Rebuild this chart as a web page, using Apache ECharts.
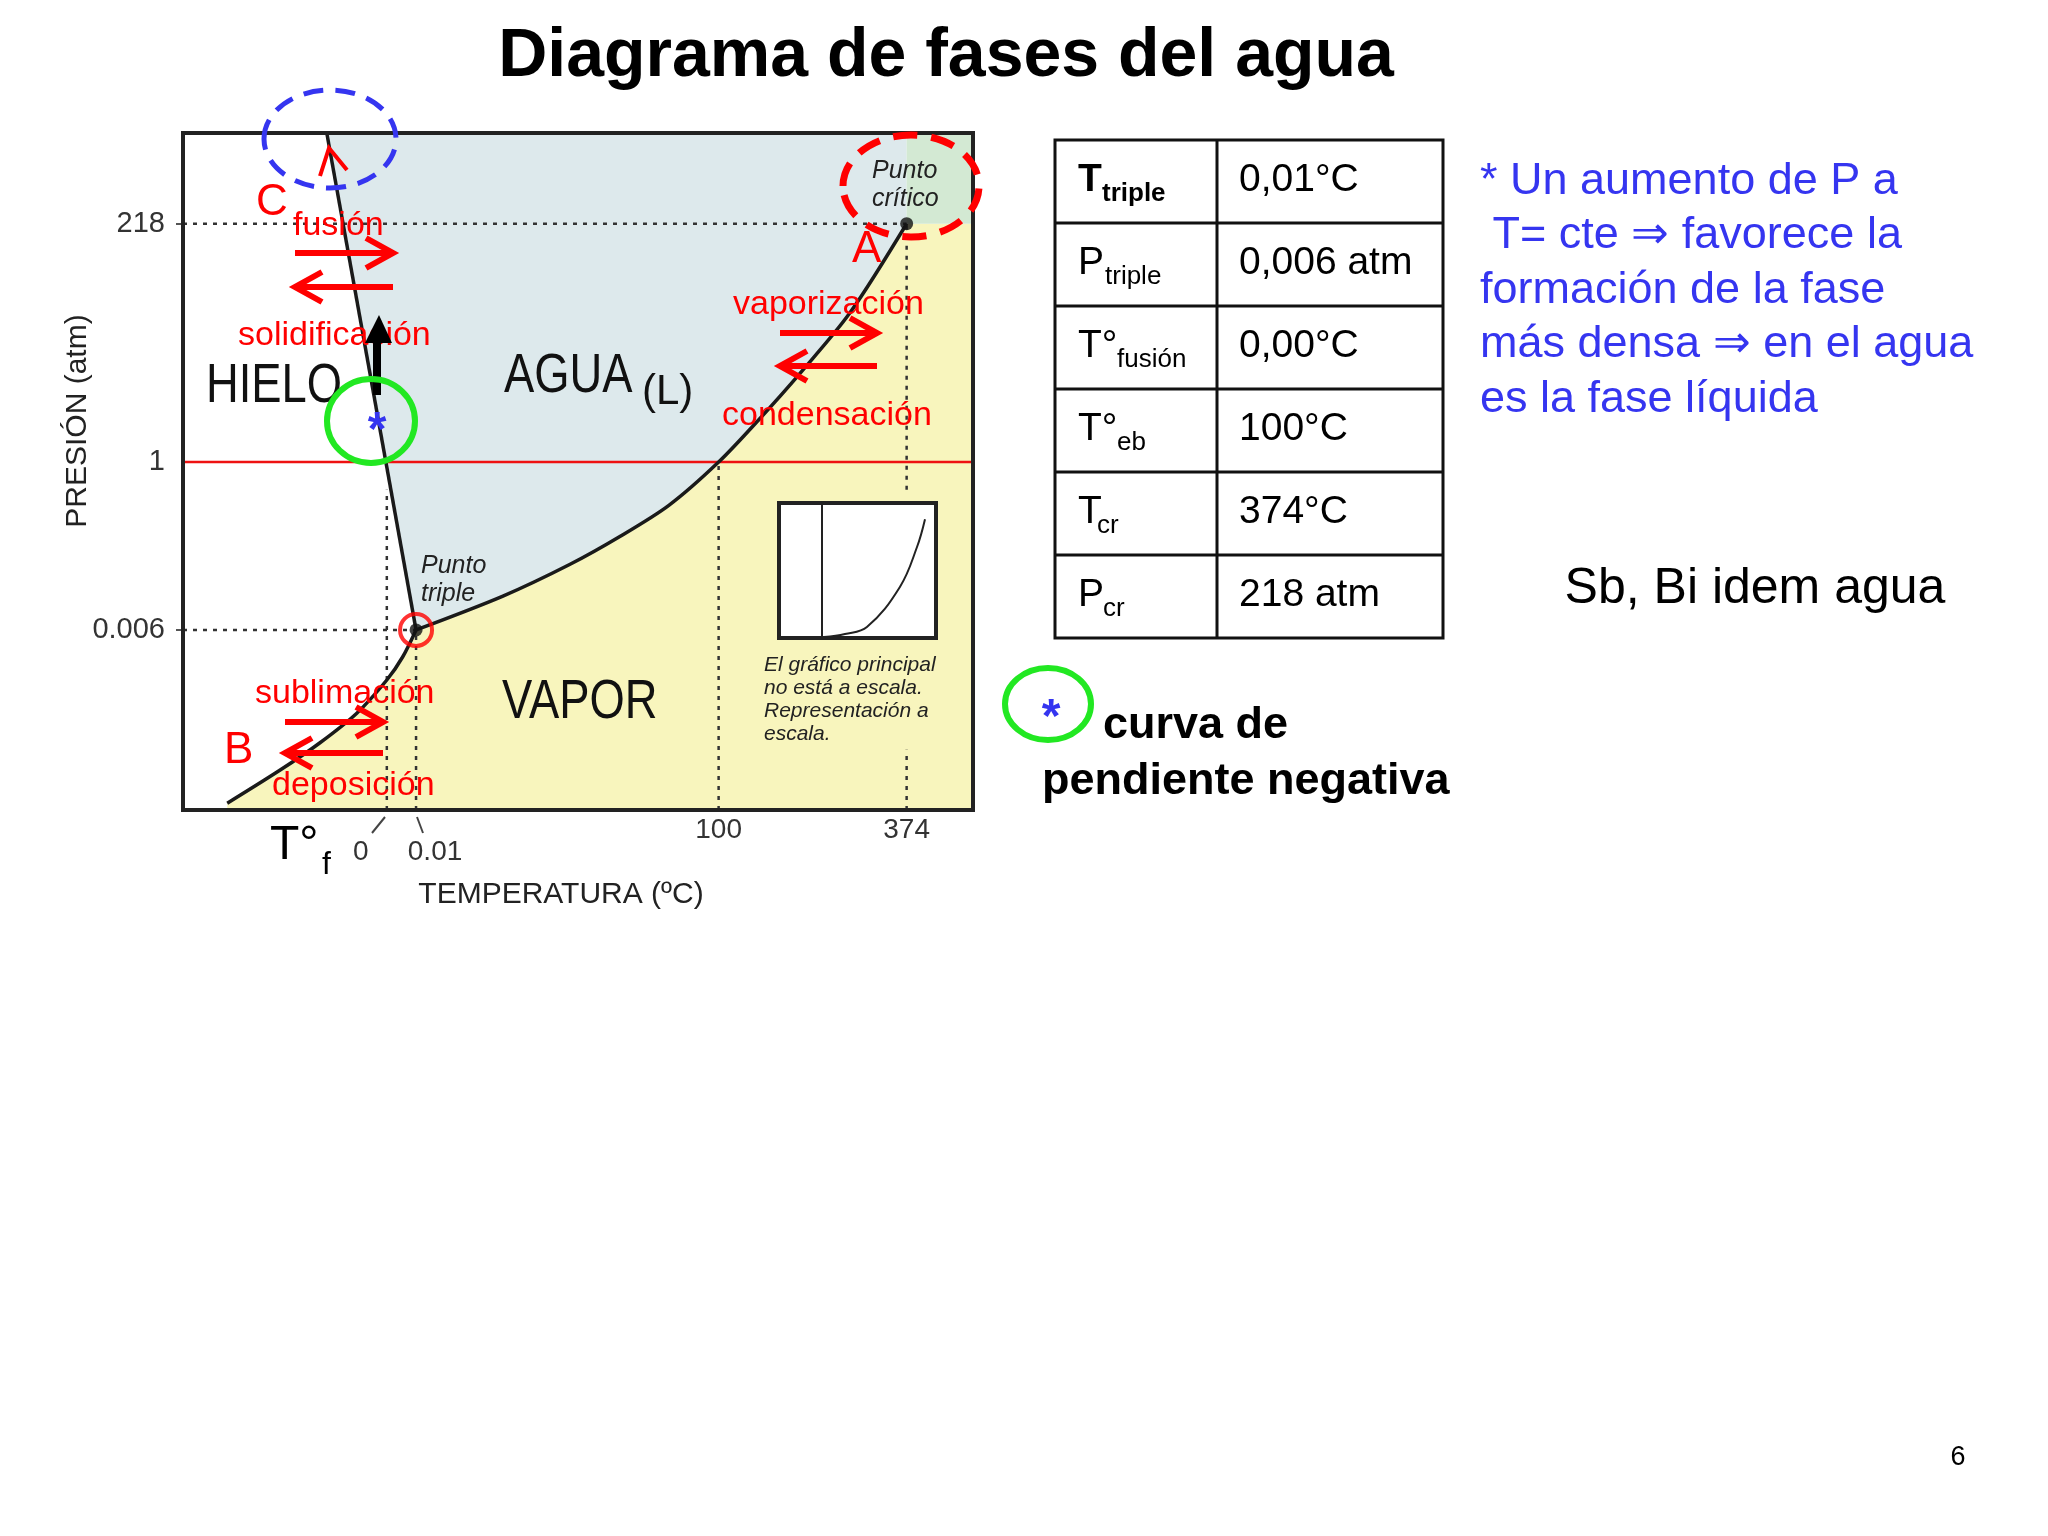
<!DOCTYPE html>
<html>
<head>
<meta charset="utf-8">
<title>Diagrama de fases del agua</title>
<script src="https://cdn.jsdelivr.net/npm/echarts@6/dist/echarts.min.js"></script>
<style>
  html, body { margin: 0; background: #fff; }
  #chart { width: 2048px; height: 1536px; }
</style>
</head>
<body>
<div id="chart"></div>
<script>
// diagrama esquemático (no está a escala): ejes en unidades 0-100
const tempLabels = ['0', '0.01', '100', '374'];
const tempPos = [25.8, 29.5, 67.8, 91.6];
const presLabels = ['0.006', '1', '218'];
const presPos = [26.6, 51.4, 86.6];

// curvas de equilibrio
const fusT = [29.5, 18.2];
const fusP = [26.6, 100];
const subT = [5.6, 12.3, 17.3, 22.0, 25.8, 27.8, 29.5];
const subP = [1.0, 5.9, 9.9, 14.3, 19.2, 22.6, 26.6];
const vapT = [29.5, 40.5, 49.0, 55.3, 61.5, 67.8, 73.0, 78.1, 84.4, 91.6];
const vapP = [26.6, 31.6, 36.3, 40.4, 45.0, 51.4, 57.8, 64.5, 73.4, 86.6];

// recuadro "a escala"
const insetLineT = [27.4, 27.4];
const insetLineP = [0, 100];
const insetCurveT = [28.7, 42, 56, 77, 87.9, 93];
const insetCurveP = [0.7, 3, 8.1, 37.8, 67.4, 88];

// tabla
const tableMain = ['T', 'P', 'T°', 'T°', 'T', 'P'];
const tableSub = ['triple', 'triple', 'fusión', 'eb', 'cr', 'cr'];
const tableValues = ['0,01°C', '0,006 atm', '0,00°C', '100°C', '374°C', '218 atm'];

const noteLines = ['* Un aumento de P a', ' T= cte ⇒ favorece la', 'formación de la fase', 'más densa ⇒ en el agua', 'es la fase líquida'];

const zip = (xs, ys) => xs.map((x, i) => [x, ys[i]]);
const triple = [tempPos[1], presPos[0]];
const critical = [tempPos[3], presPos[2]];

// regiones: líquido, vapor, supercrítico
const regionNames = ['AGUA', 'VAPOR', 'supercrítico'];
const regionColors = ['#dde9ec', '#f8f5bd', '#d3e9d3'];
const regionPolys = [
  [[fusT[1], fusP[1]]].concat(zip(vapT, vapP), [[critical[0], 100]]),
  [[subT[0], 0]].concat(zip(subT, subP), zip(vapT, vapP).slice(1), [[100, critical[1]], [100, 0]]),
  [critical, [100, critical[1]], [100, 100], [critical[0], 100]]
];

const guideLines = [
  [[0, presPos[2]], critical],
  [[0, presPos[0]], triple],
  [[tempPos[0], 0], [tempPos[0], 47.3]],
  [[tempPos[1], 0], triple],
  [[tempPos[2], 0], [tempPos[2], presPos[1]]],
  [[tempPos[3], 0], [tempPos[3], 8.9]],
  [[tempPos[3], 47.3], critical]
];

const SANS = '"Liberation Sans", Arial, sans-serif';
const RED = '#ff0000';
const BLUE = '#3535f0';

function txt(x, y, text, size, color, extra) {
  return {
    type: 'text', x: x, y: y, z: 100,
    style: Object.assign({
      text: text, fontSize: size, fill: color, fontFamily: SANS,
      align: 'left', verticalAlign: 'middle'
    }, extra || {})
  };
}
// rótulos estrechos del gráfico original (HIELO, AGUA, VAPOR)
function narrow(x, y, text) {
  const el = txt(x, y, text, 56, '#111');
  el.scaleX = 0.81;
  return el;
}
function arrow(x1, x2, y, color) {
  const d = x2 > x1 ? 1 : -1;
  return [
    { type: 'line', z: 100, shape: { x1: x1, y1: y, x2: x2 - d * 3, y2: y }, style: { stroke: color, lineWidth: 6 } },
    { type: 'polyline', z: 100, shape: { points: [[x2 - d * 27, y - 15], [x2, y], [x2 - d * 27, y + 15]] },
      style: { stroke: color, lineWidth: 6, fill: null, lineJoin: 'miter' } }
  ];
}
function ellipse(cx, cy, rx, ry, color, width, dash) {
  return { type: 'ellipse', z: 100, shape: { cx: cx, cy: cy, rx: rx, ry: ry },
    style: { fill: null, stroke: color, lineWidth: width, lineDash: dash || null } };
}

const graphics = [];
// título
graphics.push(txt(946, 57, 'Diagrama de fases del agua', 68, '#000', { align: 'center', fontWeight: 'bold' }));
// marco del diagrama
graphics.push({ type: 'rect', z: 50, shape: { x: 183, y: 133, width: 790, height: 677 },
  style: { fill: null, stroke: '#222', lineWidth: 4 } });
// títulos de ejes
graphics.push({ type: 'text', x: 78, y: 421, rotation: Math.PI / 2, z: 100,
  style: { text: 'PRESIÓN (atm)', fontSize: 30, fill: '#222', fontFamily: SANS, align: 'center', verticalAlign: 'middle' } });
graphics.push(txt(561, 895, 'TEMPERATURA (ºC)', 30, '#222', { align: 'center' }));
graphics.push(txt(270, 846, 'T°', 48, '#000'));
graphics.push(txt(322, 865, 'f', 32, '#000'));
graphics.push({ type: 'line', z: 100, shape: { x1: 385, y1: 817, x2: 372, y2: 833 }, style: { stroke: '#444', lineWidth: 2 } });
graphics.push({ type: 'line', z: 100, shape: { x1: 417, y1: 817, x2: 423, y2: 833 }, style: { stroke: '#444', lineWidth: 2 } });
// fases
graphics.push(narrow(206, 387, 'HIELO'));
graphics.push(narrow(504, 377, 'AGUA'));
graphics.push(txt(642, 392, '(L)', 42, '#111'));
graphics.push(narrow(502, 703, 'VAPOR'));
graphics.push(txt(421, 552, 'Punto\ntriple', 25, '#222', { fontStyle: 'italic', verticalAlign: 'top', lineHeight: 28 }));
graphics.push(txt(872, 157, 'Punto\ncrítico', 25, '#222', { fontStyle: 'italic', verticalAlign: 'top', lineHeight: 28 }));
graphics.push(txt(764, 654, 'El gráfico principal\nno está a escala.\nRepresentación a\nescala.', 21, '#222',
  { fontStyle: 'italic', verticalAlign: 'top', lineHeight: 23 }));
// anotaciones en rojo
graphics.push(txt(256, 203, 'C', 44, RED));
graphics.push(txt(852, 250, 'A', 44, RED));
graphics.push(txt(224, 751, 'B', 44, RED));
graphics.push(txt(293, 226, 'fusión', 34, RED));
graphics.push(txt(238, 336, 'solidificación', 34, RED));
graphics.push(txt(733, 305, 'vaporización', 34, RED));
graphics.push(txt(722, 416, 'condensación', 34, RED));
graphics.push(txt(255, 694, 'sublimación', 34, RED));
graphics.push(txt(272, 786, 'deposición', 34, RED));
graphics.push.apply(graphics, arrow(295, 393, 253, RED));
graphics.push.apply(graphics, arrow(393, 295, 287, RED));
graphics.push.apply(graphics, arrow(780, 877, 333, RED));
graphics.push.apply(graphics, arrow(877, 780, 366, RED));
graphics.push.apply(graphics, arrow(285, 383, 722, RED));
graphics.push.apply(graphics, arrow(383, 285, 753, RED));
graphics.push({ type: 'polyline', z: 100, shape: { points: [[320, 176], [329, 148], [347, 170]] },
  style: { stroke: RED, lineWidth: 4, fill: null } });
// flecha negra
graphics.push({ type: 'rect', z: 100, shape: { x: 373, y: 338, width: 8, height: 57 }, style: { fill: '#000' } });
graphics.push({ type: 'polygon', z: 100, shape: { points: [[365, 343], [392, 343], [379, 315]] }, style: { fill: '#000' } });
// círculos
graphics.push(ellipse(330, 139, 66, 49, BLUE, 5, [20, 12]));
graphics.push(ellipse(911, 186, 68, 51, RED, 7, [24, 14]));
graphics.push(ellipse(371, 421, 44, 42, '#22e822', 6));
graphics.push(txt(377, 432, '*', 48, BLUE, { align: 'center', fontWeight: 'bold' }));

// tabla
const tabX = 1055, tabY = 140, tabW = 388, rowH = 83, colX = 1217;
const subX = [1102, 1105, 1117, 1117, 1097, 1103];
graphics.push({ type: 'rect', z: 100, shape: { x: tabX, y: tabY, width: tabW, height: rowH * 6 },
  style: { fill: '#fff', stroke: '#111', lineWidth: 3 } });
graphics.push({ type: 'line', z: 101, shape: { x1: colX, y1: tabY, x2: colX, y2: tabY + rowH * 6 }, style: { stroke: '#111', lineWidth: 3 } });
tableMain.forEach(function (m, r) {
  const top = tabY + r * rowH;
  if (r > 0) {
    graphics.push({ type: 'line', z: 101, shape: { x1: tabX, y1: top, x2: tabX + tabW, y2: top }, style: { stroke: '#111', lineWidth: 3 } });
  }
  const w = r === 0 ? 'bold' : 'normal';
  graphics.push(txt(1078, top + 40, m, 39, '#000', { fontWeight: w }));
  graphics.push(txt(subX[r], top + 54, tableSub[r], 26, '#000', { fontWeight: w }));
  graphics.push(txt(1239, top + 40, tableValues[r], 39, '#000'));
});

// notas
graphics.push(txt(1480, 154, noteLines.join('\n'), 45, BLUE, { verticalAlign: 'top', lineHeight: 54.5 }));
graphics.push(txt(1755, 589, 'Sb, Bi idem agua', 50, '#000', { align: 'center' }));
graphics.push(ellipse(1048, 704, 43, 36, '#22e822', 6));
graphics.push(txt(1051, 719, '*', 48, BLUE, { align: 'center', fontWeight: 'bold' }));
graphics.push(txt(1103, 726, 'curva de', 45, '#000', { fontWeight: 'bold' }));
graphics.push(txt(1042, 782, 'pendiente negativa', 45, '#000', { fontWeight: 'bold' }));
graphics.push(txt(1958, 1458, '6', 27, '#000', { align: 'center' }));

function tickIndex(positions, v) {
  let best = 0;
  positions.forEach(function (p, i) { if (Math.abs(p - v) < Math.abs(positions[best] - v)) best = i; });
  return best;
}

const chart = echarts.init(document.getElementById('chart'));
chart.setOption({
  backgroundColor: '#fff',
  animation: false,
  grid: [
    { left: 183, top: 133, width: 790, height: 677, show: false },
    { left: 779, top: 503, width: 157, height: 135, show: true, z: 10,
      backgroundColor: '#fff', borderColor: '#222', borderWidth: 4 }
  ],
  xAxis: [
    { gridIndex: 0, type: 'value', min: 0, max: 100,
      axisLine: { show: false }, splitLine: { show: false }, axisTick: { show: false },
      axisLabel: {
        customValues: tempPos, margin: 6, fontSize: 28, color: '#333', fontFamily: SANS,
        formatter: function (v) {
          const i = tickIndex(tempPos, v);
          return i < 2 ? '{lo' + i + '|' + tempLabels[i] + '}' : tempLabels[i];
        },
        rich: {
          lo0: { padding: [22, 52, 0, 0], fontSize: 28, color: '#333', fontFamily: SANS },
          lo1: { padding: [22, 0, 0, 38], fontSize: 28, color: '#333', fontFamily: SANS }
        }
      } },
    { gridIndex: 1, type: 'value', min: 0, max: 100, show: false }
  ],
  yAxis: [
    { gridIndex: 0, type: 'value', min: 0, max: 100,
      axisLine: { show: false }, splitLine: { show: false },
      axisTick: { show: true, customValues: [presPos[0], presPos[2]], length: 7, lineStyle: { color: '#555', width: 2 } },
      axisLabel: {
        customValues: presPos, margin: 18, fontSize: 29, color: '#333', fontFamily: SANS,
        formatter: function (v) { return presLabels[tickIndex(presPos, v)]; }
      } },
    { gridIndex: 1, type: 'value', min: 0, max: 100, show: false }
  ],
  series: [
    { type: 'custom', name: 'regiones', silent: true, z: 1,
      data: regionNames.map(function (n, i) { return [i]; }),
      renderItem: function (params, api) {
        const poly = regionPolys[params.dataIndex];
        return { type: 'polygon', shape: { points: poly.map(function (p) { return api.coord(p); }) },
          style: { fill: regionColors[params.dataIndex] } };
      } }
  ].concat(guideLines.map(function (seg) {
    return { type: 'line', data: seg, symbol: 'none', silent: true, z: 3,
      lineStyle: { color: '#333', width: 2.5, type: [4, 6] } };
  }), [
    { type: 'line', name: 'P = 1 atm', data: [[0, presPos[1]], [100, presPos[1]]], symbol: 'none', z: 4,
      lineStyle: { color: '#ee1111', width: 2.5 } },
    { type: 'line', name: 'fusión', data: zip(fusT, fusP), symbol: 'none', z: 5,
      lineStyle: { color: '#1a1a1a', width: 3.5 } },
    { type: 'line', name: 'sublimación', data: zip(subT, subP), symbol: 'none', smooth: 0.3, z: 5,
      lineStyle: { color: '#1a1a1a', width: 3.5 } },
    { type: 'line', name: 'vaporización', data: zip(vapT, vapP), symbol: 'none', smooth: 0.3, z: 5,
      lineStyle: { color: '#1a1a1a', width: 3.5 } },
    { type: 'scatter', name: 'puntos', data: [triple, critical], symbolSize: 13, z: 6,
      itemStyle: { color: '#111' } },
    { type: 'scatter', name: 'marca triple', data: [triple], symbolSize: 32, z: 7,
      itemStyle: { color: 'rgba(0,0,0,0)', borderColor: RED, borderWidth: 4 } },
    { type: 'line', xAxisIndex: 1, yAxisIndex: 1, data: zip(insetLineT, insetLineP), symbol: 'none', z: 12,
      lineStyle: { color: '#222', width: 2 } },
    { type: 'line', xAxisIndex: 1, yAxisIndex: 1, data: zip(insetCurveT, insetCurveP), symbol: 'none', smooth: 0.4, z: 12,
      lineStyle: { color: '#222', width: 2 } }
  ]),
  graphic: graphics
});
</script>
</body>
</html>
